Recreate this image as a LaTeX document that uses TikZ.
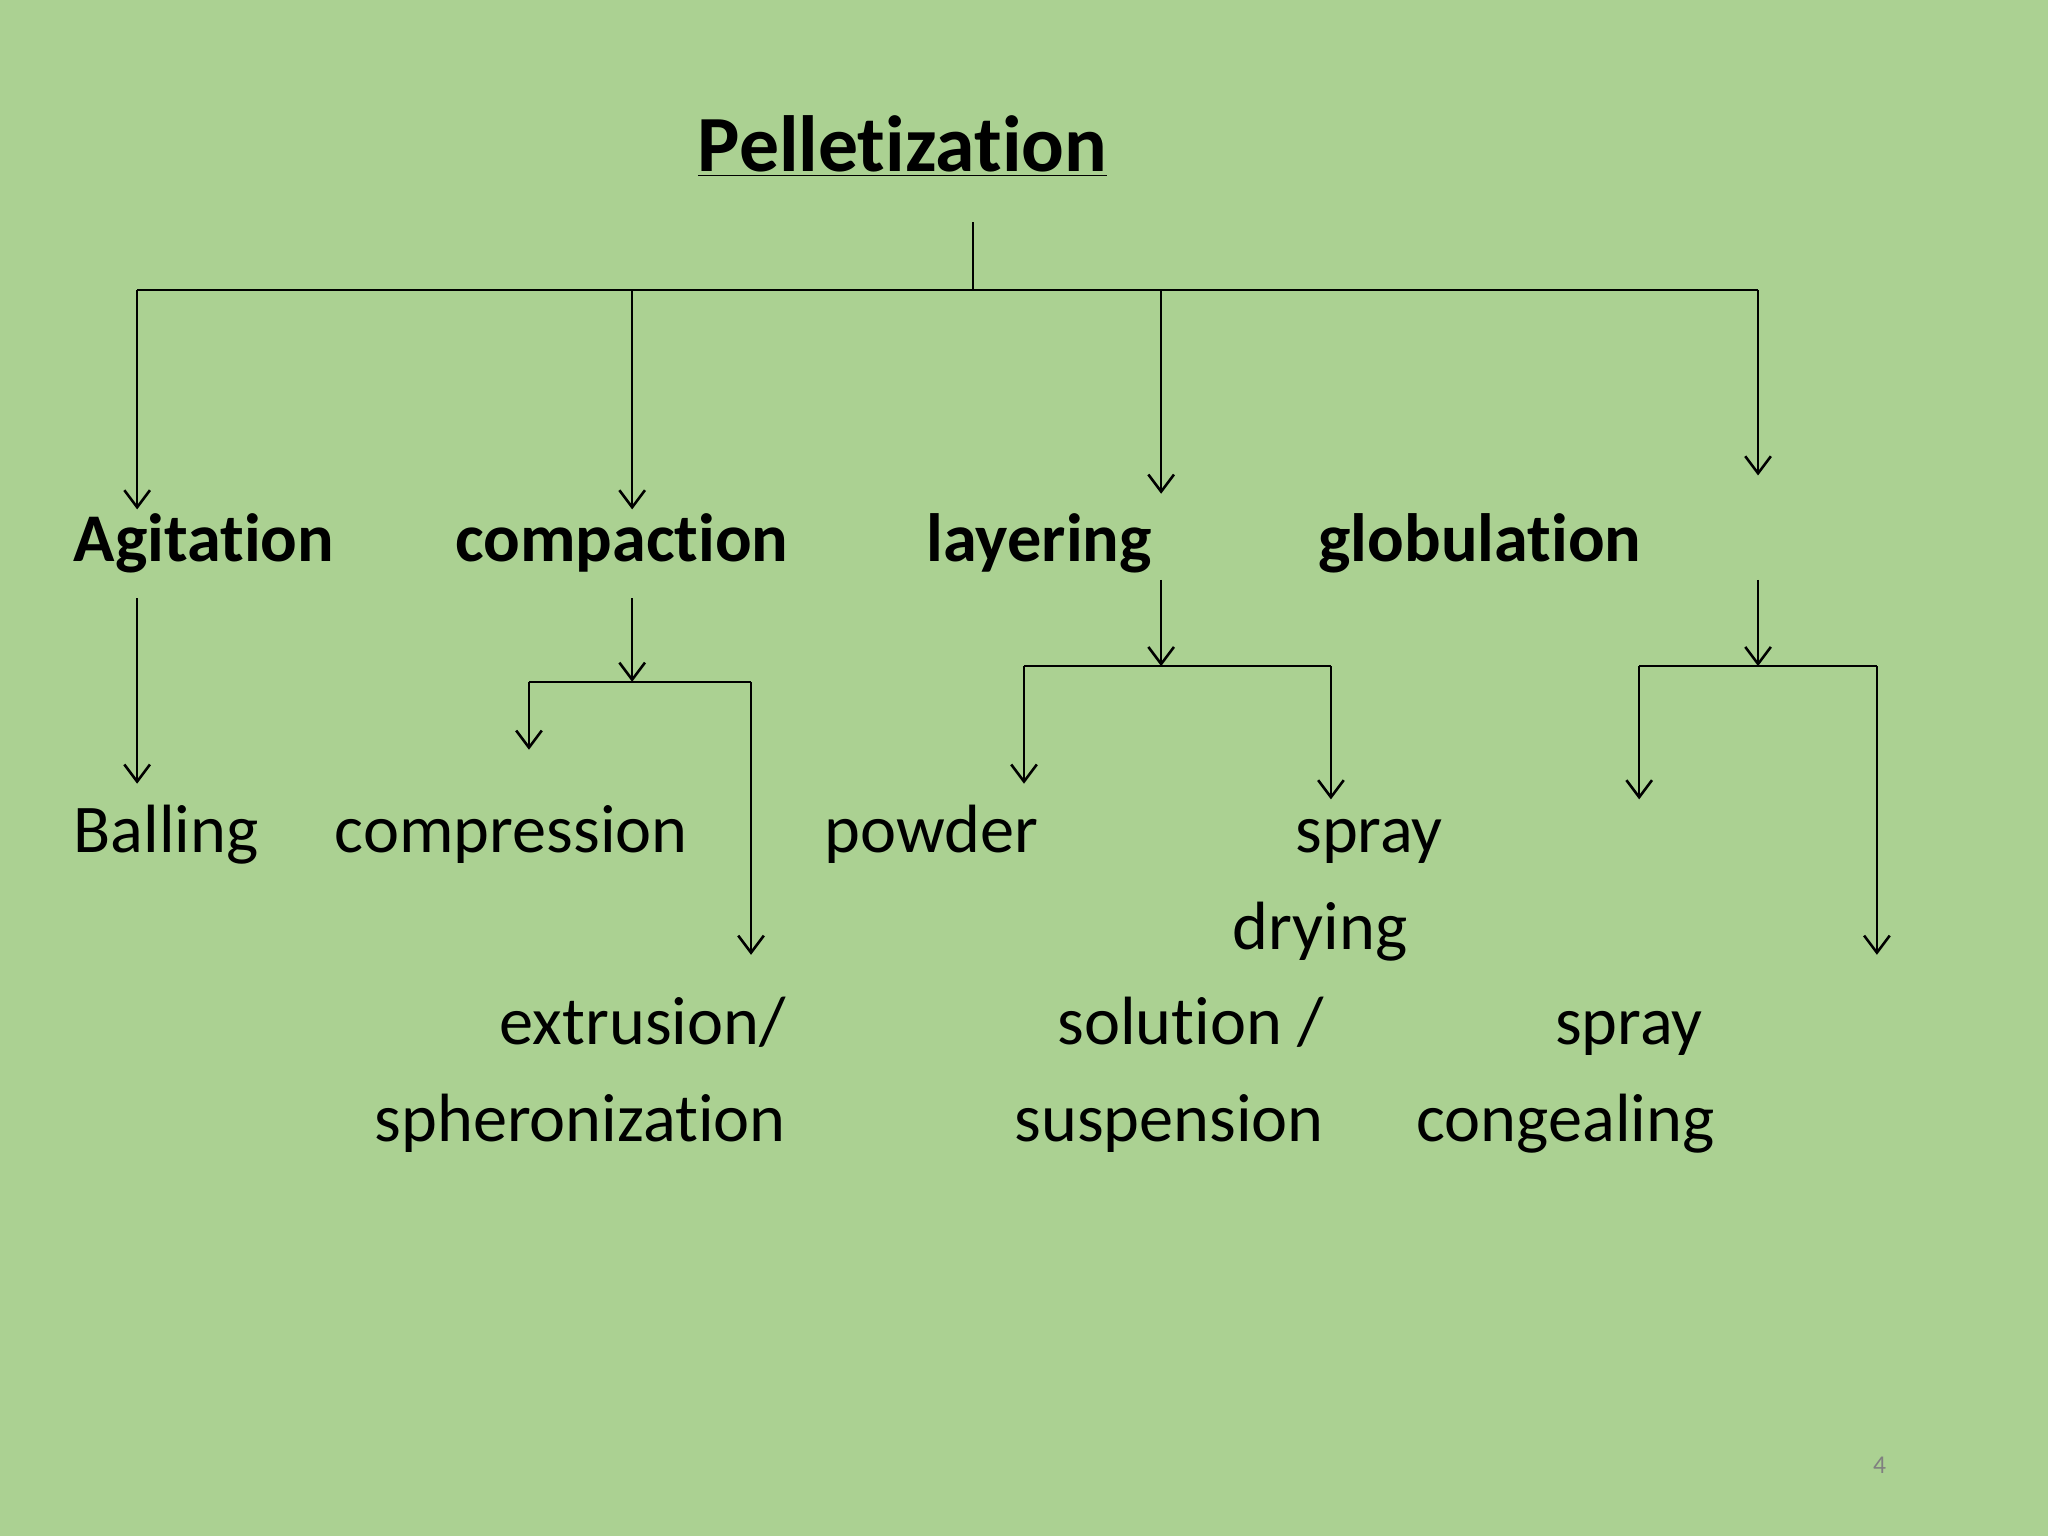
\documentclass[tikz,border=0pt]{standalone}
\usepackage{fontspec}
\setmainfont[Ligatures={NoCommon}]{Carlito}
\usetikzlibrary{arrows.meta}
\definecolor{bg}{HTML}{ABD192}
\tikzset{
  ln/.style={line width=0.9pt, black},
  arr/.style={ln, -{Straight Barb[length=6pt,width=9pt]}},
  lbl/.style={anchor=base west, inner sep=0pt, font=\fontsize{24}{26}\selectfont},
  lblr/.style={lbl, anchor=base east},
  hd/.style={lbl, font=\fontsize{24}{26}\selectfont\bfseries},
}
\begin{document}
\begin{tikzpicture}[x=0.459pt,y=-0.459pt]
\fill[bg] (0,0) rectangle (1568,1176);
\useasboundingbox (0,0) rectangle (1568,1176);
\node[anchor=base, inner sep=0pt, font=\fontsize{28}{30}\selectfont\bfseries] (title) at (691,131) {\underline{Pelletization}};
\node[hd] (ag) at (56,430) {Agitation};
\node[hd] (co) at (348,430) {compaction};
\node[hd] (la) at (709,430) {layering};
\node[hd] (gl) at (1009,430) {globulation};
\node[lbl] (ba) at (56,653) {Balling};
\node[lbl] (cm) at (256,653) {compression};
\node[lblr] (ex) at (602,800) {extrusion/};
\node[lblr] (sp) at (602,874) {spheronization};
\node[lbl] (pw) at (631,653) {powder};
\node[lblr] (sy) at (1105,653) {spray};
\node[lblr] (dr) at (1078,727) {drying};
\node[lblr] (so) at (1014,800) {solution /};
\node[lblr] (su) at (1014,874) {suspension};
\node[lblr] (sg) at (1304,800) {spray};
\node[lblr] (cg) at (1313,874) {congealing};
\node[anchor=center, text=gray, font=\fontsize{9}{10}\selectfont] (pg) at (1439,1122) {4};
% top tree
\coordinate (t0) at (745,170); \coordinate (t1) at (745,222);
\coordinate (h1) at (105,222); \coordinate (h2) at (484,222); \coordinate (h3) at (889,222); \coordinate (h4) at (1346,222);
\draw[ln] (t0) -- (t1);
\draw[ln] (h1) -- (h4);
\draw[arr] (h1) -- (105,390);
\draw[arr] (h2) -- (484,390);
\draw[arr] (h3) -- (889,378);
\draw[arr] (h4) -- (1346,364);
% agitation
\draw[arr] (105,458) -- (105,600);
% compaction
\draw[arr] (484,458) -- (484,522);
\draw[ln] (405,522) -- (575,522);
\draw[arr] (405,522) -- (405,574);
\draw[arr] (575,522) -- (575,731);
% layering
\draw[arr] (889,444) -- (889,510);
\draw[ln] (784,510) -- (1019,510);
\draw[arr] (784,510) -- (784,600);
\draw[arr] (1019,510) -- (1019,612);
% globulation
\draw[arr] (1346,444) -- (1346,510);
\draw[ln] (1255,510) -- (1437,510);
\draw[arr] (1255,510) -- (1255,612);
\draw[arr] (1437,510) -- (1437,731);
\end{tikzpicture}
\end{document}
